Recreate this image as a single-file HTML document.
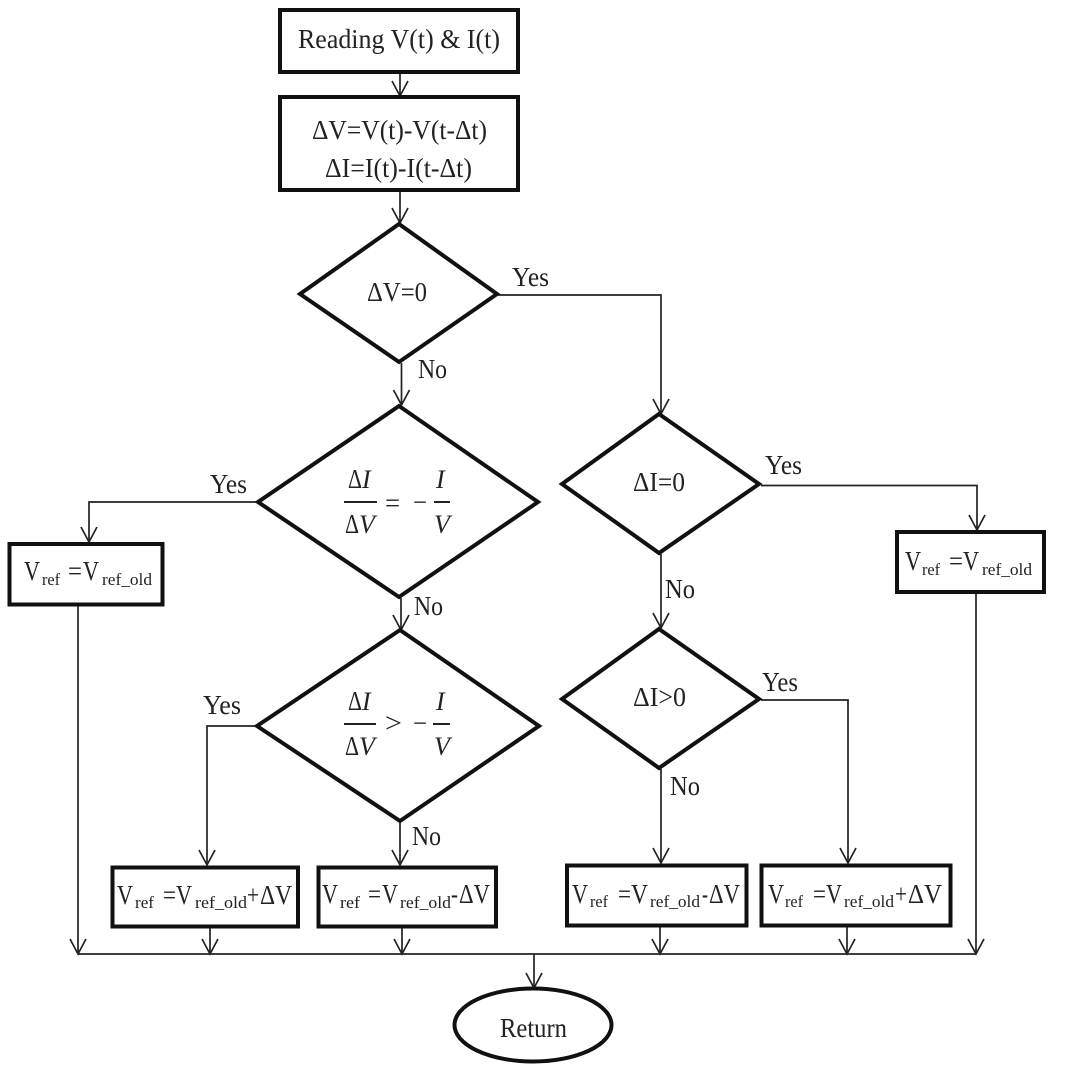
<!DOCTYPE html>
<html>
<head>
<meta charset="utf-8">
<style>
html,body{margin:0;padding:0;background:#fff;width:1077px;height:1065px;overflow:hidden}
svg{display:block;filter:blur(.35px)}
text{font-family:"Liberation Serif",serif;fill:#222;font-size:27px}
.b{fill:#fff;stroke:#111;stroke-width:4}
.l{fill:none;stroke:#222;stroke-width:1.7}
.s{font-size:17px}
.i{font-style:italic;font-size:26px}
.f{stroke:#222;stroke-width:2;fill:none}
</style>
</head>
<body>
<svg width="1077" height="1065" viewBox="0 0 1077 1065" xmlns="http://www.w3.org/2000/svg">
<defs>
<marker id="a" markerUnits="userSpaceOnUse" markerWidth="20" markerHeight="20" refX="16" refY="10" orient="auto">
<path d="M1 2 L16 10 L1 18" fill="none" stroke="#222" stroke-width="1.7"/>
</marker>
</defs>

<!-- connectors -->
<g class="l">
<path d="M400 73V96" marker-end="url(#a)"/>
<path d="M400 190V223" marker-end="url(#a)"/>
<path d="M401.5 363V405" marker-end="url(#a)"/>
<path d="M401 598V630" marker-end="url(#a)"/>
<path d="M400 822V865" marker-end="url(#a)"/>
<path d="M498 295H661V414" marker-end="url(#a)"/>
<path d="M761 485.5H977V530" marker-end="url(#a)"/>
<path d="M661 554V628" marker-end="url(#a)"/>
<path d="M661 769V863" marker-end="url(#a)"/>
<path d="M761 700H848V863" marker-end="url(#a)"/>
<path d="M257 502H89V542" marker-end="url(#a)"/>
<path d="M257 726H207V865" marker-end="url(#a)"/>
<path d="M78 605V954" marker-end="url(#a)"/>
<path d="M976 593V954" marker-end="url(#a)"/>
<path d="M210 928V954" marker-end="url(#a)"/>
<path d="M402 928V954" marker-end="url(#a)"/>
<path d="M660 927V954" marker-end="url(#a)"/>
<path d="M847 927V954" marker-end="url(#a)"/>
<path d="M78 954H976"/>
<path d="M534 954V988" marker-end="url(#a)"/>
</g>

<!-- boxes -->
<rect class="b" x="280" y="10" width="238" height="62"/>
<rect class="b" x="280" y="97" width="238" height="93"/>
<polygon class="b" points="399,224 497,294 399,362 300,294"/>
<polygon class="b" points="399,406 538,502 399,597 258,502"/>
<polygon class="b" points="400,630 539,726 400,821 257,726"/>
<polygon class="b" points="659,414 759,484 659,553 562,484"/>
<polygon class="b" points="659,629 759,699 659,768 562,699"/>
<rect class="b" x="9.5" y="544" width="153" height="60.5"/>
<rect class="b" x="897" y="532" width="147" height="60"/>
<rect class="b" x="112.5" y="867.5" width="185.5" height="59"/>
<rect class="b" x="318.5" y="867.5" width="177.5" height="59"/>
<rect class="b" x="567" y="865.5" width="179.5" height="60"/>
<rect class="b" x="761.5" y="865.5" width="189" height="60"/>
<ellipse class="b" cx="533" cy="1025" rx="78.5" ry="36.5"/>

<!-- labels -->
<text x="298" y="48" textLength="202" lengthAdjust="spacingAndGlyphs">Reading V(t) &amp; I(t)</text>
<text x="312" y="139" textLength="175" lengthAdjust="spacingAndGlyphs">ΔV=V(t)-V(t-Δt)</text>
<text x="325" y="177" textLength="147" lengthAdjust="spacingAndGlyphs">ΔI=I(t)-I(t-Δt)</text>
<text x="367" y="301" textLength="60" lengthAdjust="spacingAndGlyphs">ΔV=0</text>
<text x="633" y="491" textLength="52" lengthAdjust="spacingAndGlyphs">ΔI=0</text>
<text x="633" y="706" textLength="53" lengthAdjust="spacingAndGlyphs">ΔI&gt;0</text>

<text x="512" y="286" textLength="37" lengthAdjust="spacingAndGlyphs">Yes</text>
<text x="418" y="378" textLength="29" lengthAdjust="spacingAndGlyphs">No</text>
<text x="210" y="493" textLength="37" lengthAdjust="spacingAndGlyphs">Yes</text>
<text x="414" y="615" textLength="29" lengthAdjust="spacingAndGlyphs">No</text>
<text x="203" y="714" textLength="38" lengthAdjust="spacingAndGlyphs">Yes</text>
<text x="412" y="845" textLength="29" lengthAdjust="spacingAndGlyphs">No</text>
<text x="765" y="474" textLength="37" lengthAdjust="spacingAndGlyphs">Yes</text>
<text x="665" y="598" textLength="30" lengthAdjust="spacingAndGlyphs">No</text>
<text x="762" y="691" textLength="36" lengthAdjust="spacingAndGlyphs">Yes</text>
<text x="670" y="795" textLength="30" lengthAdjust="spacingAndGlyphs">No</text>

<!-- fraction 1 -->
<text x="348" y="488" textLength="14" lengthAdjust="spacingAndGlyphs">Δ</text>
<text x="362" y="488" class="i">I</text>
<path class="f" d="M344 502H377"/>
<text x="345" y="533" textLength="14" lengthAdjust="spacingAndGlyphs">Δ</text>
<text x="359" y="533" class="i">V</text>
<text x="385" y="512" textLength="15" lengthAdjust="spacingAndGlyphs">=</text>
<text x="413" y="511" textLength="14" lengthAdjust="spacingAndGlyphs">−</text>
<text x="436" y="488" class="i">I</text>
<path class="f" d="M434 502H450"/>
<text x="434" y="533" class="i">V</text>

<!-- fraction 2 -->
<text x="348" y="710" textLength="14" lengthAdjust="spacingAndGlyphs">Δ</text>
<text x="362" y="710" class="i">I</text>
<path class="f" d="M344 724H376"/>
<text x="345" y="755" textLength="14" lengthAdjust="spacingAndGlyphs">Δ</text>
<text x="359" y="755" class="i">V</text>
<text x="385" y="732" textLength="17" lengthAdjust="spacingAndGlyphs">&gt;</text>
<text x="413" y="732" textLength="14" lengthAdjust="spacingAndGlyphs">−</text>
<text x="436" y="710" class="i">I</text>
<path class="f" d="M433 724H450"/>
<text x="434" y="755" class="i">V</text>

<!-- left Vref -->
<text x="24" y="580" textLength="16" lengthAdjust="spacingAndGlyphs">V</text>
<text x="42" y="585" class="s" textLength="18" lengthAdjust="spacingAndGlyphs">ref</text>
<text x="68" y="580" textLength="14" lengthAdjust="spacingAndGlyphs">=</text>
<text x="83" y="580" textLength="16" lengthAdjust="spacingAndGlyphs">V</text>
<text x="102" y="585" class="s" textLength="50" lengthAdjust="spacingAndGlyphs">ref_old</text>

<!-- right Vref -->
<text x="905" y="570" textLength="16" lengthAdjust="spacingAndGlyphs">V</text>
<text x="922" y="575" class="s" textLength="18" lengthAdjust="spacingAndGlyphs">ref</text>
<text x="949" y="570" textLength="14" lengthAdjust="spacingAndGlyphs">=</text>
<text x="963" y="570" textLength="16" lengthAdjust="spacingAndGlyphs">V</text>
<text x="982" y="575" class="s" textLength="50" lengthAdjust="spacingAndGlyphs">ref_old</text>

<!-- box a -->
<text x="117" y="904" textLength="16" lengthAdjust="spacingAndGlyphs">V</text>
<text x="135" y="908" class="s" textLength="19" lengthAdjust="spacingAndGlyphs">ref</text>
<text x="163" y="904" textLength="13" lengthAdjust="spacingAndGlyphs">=</text>
<text x="176" y="904" textLength="16" lengthAdjust="spacingAndGlyphs">V</text>
<text x="195" y="908" class="s" textLength="52" lengthAdjust="spacingAndGlyphs">ref_old</text>
<text x="247" y="904" textLength="12" lengthAdjust="spacingAndGlyphs">+</text>
<text x="260" y="904" textLength="32" lengthAdjust="spacingAndGlyphs">ΔV</text>

<!-- box b -->
<text x="322" y="903" textLength="16" lengthAdjust="spacingAndGlyphs">V</text>
<text x="340" y="908" class="s" textLength="20" lengthAdjust="spacingAndGlyphs">ref</text>
<text x="368" y="903" textLength="13" lengthAdjust="spacingAndGlyphs">=</text>
<text x="382" y="903" textLength="16" lengthAdjust="spacingAndGlyphs">V</text>
<text x="400" y="908" class="s" textLength="51" lengthAdjust="spacingAndGlyphs">ref_old</text>
<text x="451" y="903" textLength="7" lengthAdjust="spacingAndGlyphs">-</text>
<text x="459" y="903" textLength="31" lengthAdjust="spacingAndGlyphs">ΔV</text>

<!-- box c -->
<text x="572" y="903" textLength="16" lengthAdjust="spacingAndGlyphs">V</text>
<text x="590" y="907" class="s" textLength="18" lengthAdjust="spacingAndGlyphs">ref</text>
<text x="618" y="903" textLength="13" lengthAdjust="spacingAndGlyphs">=</text>
<text x="631" y="903" textLength="17" lengthAdjust="spacingAndGlyphs">V</text>
<text x="650" y="907" class="s" textLength="50" lengthAdjust="spacingAndGlyphs">ref_old</text>
<text x="702" y="903" textLength="6" lengthAdjust="spacingAndGlyphs">-</text>
<text x="709" y="903" textLength="31" lengthAdjust="spacingAndGlyphs">ΔV</text>

<!-- box d -->
<text x="768" y="903" textLength="16" lengthAdjust="spacingAndGlyphs">V</text>
<text x="785" y="907" class="s" textLength="18" lengthAdjust="spacingAndGlyphs">ref</text>
<text x="813" y="903" textLength="13" lengthAdjust="spacingAndGlyphs">=</text>
<text x="826" y="903" textLength="16" lengthAdjust="spacingAndGlyphs">V</text>
<text x="844" y="907" class="s" textLength="50" lengthAdjust="spacingAndGlyphs">ref_old</text>
<text x="895" y="903" textLength="12" lengthAdjust="spacingAndGlyphs">+</text>
<text x="908" y="903" textLength="34" lengthAdjust="spacingAndGlyphs">ΔV</text>

<text x="500" y="1037" textLength="67" lengthAdjust="spacingAndGlyphs">Return</text>
</svg>
</body>
</html>
